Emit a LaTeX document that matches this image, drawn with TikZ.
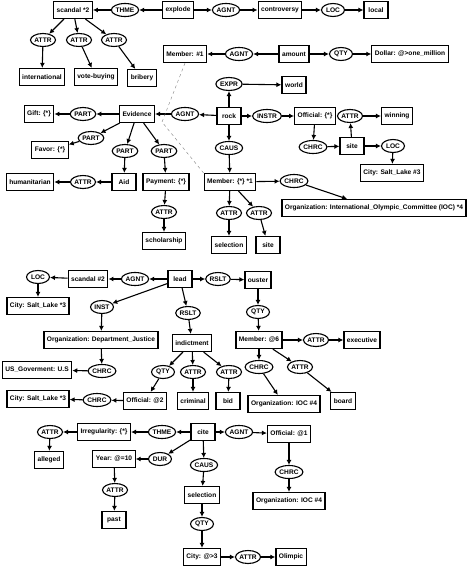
\documentclass[tikz,border=0pt]{standalone}
\usepackage{fontspec}
\setmainfont{Liberation Sans}
\usetikzlibrary{arrows.meta,shapes.geometric}

\begin{document}
\begin{tikzpicture}[
    x=1pt, y=-1pt,
    box/.style={draw,rectangle,line width=1.2pt,minimum height=17pt,minimum width=24pt,inner xsep=3pt,inner ysep=2pt,font=\fontsize{6.6}{7.5}\selectfont\bfseries},
    rel/.style={draw,ellipse,line width=1.1pt,minimum width=23pt,minimum height=13pt,inner sep=0.3pt,font=\fontsize{6.6}{7.5}\selectfont\bfseries},
    arr/.style={-{Latex[length=5pt,width=5pt]},line width=1.1pt},
    coref/.style={dashed,gray,thin},
  ]
    \useasboundingbox (0,0) rectangle (474,567);
    % first graph
    \node[box] (SC)  at (73,10)  {scandal *2};
    \node[rel] (TH)  at (125,10) {THME};
    \node[box] (EX)  at (178,10) {explode};
    \node[rel] (AG1) at (226,10) {AGNT};
    \node[box] (CO)  at (280,10) {controversy};
    \node[rel] (LC1) at (333,10) {LOC};
    \node[box] (LO)  at (376,10) {local};
    \node[rel] (AT1) at (43,40)  {ATTR};
    \node[rel] (AT2) at (79,40)  {ATTR};
    \node[rel] (AT3) at (114,40) {ATTR};
    \node[box] (IN)  at (42,77)  {international};
    \node[box] (VB)  at (96,77)  {vote-buying};
    \node[box] (BR)  at (142,78) {bribery};
    \draw[arr] (EX)--(TH); \draw[arr] (TH)--(SC); \draw[arr] (EX)--(AG1);
    \draw[arr] (AG1)--(CO); \draw[arr] (CO)--(LC1); \draw[arr] (LC1)--(LO);
    \draw[arr] (SC)--(AT1); \draw[arr] (SC)--(AT2); \draw[arr] (SC)--(AT3);
    \draw[arr] (AT1)--(IN); \draw[arr] (AT2)--(VB); \draw[arr] (AT3)--(BR);

    \node[box] (M1)  at (185,54) {Member: \#1};
    \node[rel] (AG2) at (239,54) {AGNT};
    \node[box] (AM)  at (294,54) {amount};
    \node[rel] (QT1) at (341,54) {QTY};
    \node[box] (DO)  at (410,54) {Dollar: @>one\_million};
    \draw[arr] (AM)--(AG2); \draw[arr] (AG2)--(M1);
    \draw[arr] (AM)--(QT1); \draw[arr] (QT1)--(DO);

    \node[rel] (EP)  at (229,84)  {EXPR};
    \node[box] (WO)  at (294,85)  {world};
    \node[box] (RK)  at (229,116) {rock};
    \node[rel] (AG3) at (185,114) {AGNT};
    \node[box] (EV)  at (137,114) {Evidence};
    \node[rel] (PA1) at (83,114)  {PART};
    \node[box] (GI)  at (39,114)  {Gift: \{*\}};
    \node[rel] (PA2) at (91,138)  {PART};
    \node[box] (FA)  at (50,150)  {Favor: \{*\}};
    \node[rel] (PA3) at (125,151) {PART};
    \node[rel] (PA4) at (164,151) {PART};
    \node[box] (AI)  at (124,182) {Aid};
    \node[box] (PY)  at (166,182) {Payment: \{*\}};
    \node[rel] (AT4) at (83,182)  {ATTR};
    \node[box] (HU)  at (30,182)  {humanitarian};
    \node[rel] (AT5) at (164,212) {ATTR};
    \node[box] (SS)  at (164,241) {scholarship};
    \draw[arr] (RK)--(EP); \draw[arr] (EP)--(WO);
    \draw[arr] (RK)--(AG3); \draw[arr] (AG3)--(EV);
    \draw[arr] (EV)--(PA1); \draw[arr] (PA1)--(GI);
    \draw[arr] (EV)--(PA2); \draw[arr] (PA2)--(FA);
    \draw[arr] (EV)--(PA3); \draw[arr] (PA3)--(AI);
    \draw[arr] (EV)--(PA4); \draw[arr] (PA4)--(PY);
    \draw[arr] (AI)--(AT4); \draw[arr] (AT4)--(HU);
    \draw[arr] (PY)--(AT5); \draw[arr] (AT5)--(SS);

    \node[rel] (IS)  at (267,116) {INSTR};
    \node[box] (OF)  at (315,116) {Official: \{*\}};
    \node[rel] (AT6) at (350,116) {ATTR};
    \node[box] (WI)  at (397,116) {winning};
    \node[rel] (CH1) at (313,147) {CHRC};
    \node[box] (SI)  at (352,146) {site};
    \node[rel] (LC2) at (393,146) {LOC};
    \node[box] (CT1) at (392,173) {City: Salt\_Lake \#3};
    \draw[arr] (RK)--(IS); \draw[arr] (IS)--(OF);
    \draw[arr] (OF)--(CH1); \draw[arr] (CH1)--(SI);
    \draw[arr] (SI)--(AT6); \draw[arr] (AT6)--(WI);
    \draw[arr] (SI)--(LC2); \draw[arr] (LC2)--(CT1);

    \node[rel] (CA)  at (229,148) {CAUS};
    \node[box] (MS)  at (230,182) {Member: \{*\} *1};
    \node[rel] (CH2) at (294,181) {CHRC};
    \node[box] (OR1) at (374,208) {Organization: International\_Olympic\_Committee (IOC) *4};
    \node[rel] (AT7) at (229,213) {ATTR};
    \node[rel] (AT8) at (259,213) {ATTR};
    \node[box] (SE)  at (229,245) {selection};
    \node[box] (ST)  at (268,245) {site};
    \draw[arr] (RK)--(CA); \draw[arr] (CA)--(MS);
    \draw[arr] (MS)--(CH2); \draw[arr] (CH2)--(OR1);
    \draw[arr] (MS)--(AT7); \draw[arr] (AT7)--(SE);
    \draw[arr] (MS)--(AT8); \draw[arr] (AT8)--(ST);

    % coreference
    \coordinate (CB) at (162,122);
    \draw[coref] (M1.south)--(CB)--(MS.north west);

    % second graph
    \node[rel] (LC3) at (38,277)  {LOC};
    \node[box] (SC2) at (88,279)  {scandal \#2};
    \node[rel] (AG4) at (135,279) {AGNT};
    \node[box] (LE)  at (180,279) {lead};
    \node[rel] (RS1) at (218,279) {RSLT};
    \node[box] (OU)  at (258,280) {ouster};
    \node[box] (CT2) at (38,306)  {City: Salt\_Lake *3};
    \node[rel] (IT)  at (102,307) {INST};
    \node[box] (OD)  at (101,340) {Organization: Department\_Justice};
    \node[rel] (RS2) at (188,313) {RSLT};
    \node[box] (ID)  at (192,343) {indictment};
    \draw[arr] (LE)--(AG4); \draw[arr] (AG4)--(SC2); \draw[arr] (SC2)--(LC3);
    \draw[arr] (LC3)--(CT2); \draw[arr] (LE)--(RS1); \draw[arr] (RS1)--(OU);
    \draw[arr] (LE)--(IT); \draw[arr] (IT)--(OD);
    \draw[arr] (LE)--(RS2); \draw[arr] (RS2)--(ID);

    \node[rel] (QT2) at (258,312)  {QTY};
    \node[box] (M6)  at (259,340)  {Member: @6};
    \node[rel] (AT9) at (316,340)  {ATTR};
    \node[box] (EC)  at (362,340)  {executive};
    \node[rel] (CH3) at (259,367)  {CHRC};
    \node[rel] (AT10) at (300,367) {ATTR};
    \node[box] (OR2) at (284,404)  {Organization: IOC \#4};
    \node[box] (BO)  at (343,401)  {board};
    \draw[arr] (OU)--(QT2); \draw[arr] (QT2)--(M6);
    \draw[arr] (M6)--(AT9); \draw[arr] (AT9)--(EC);
    \draw[arr] (M6)--(CH3); \draw[arr] (CH3)--(OR2);
    \draw[arr] (M6)--(AT10); \draw[arr] (AT10)--(BO);

    \node[box] (US)  at (37,370)  {US\_Goverment: U.S};
    \node[rel] (CH4) at (102,371) {CHRC};
    \node[rel] (QT3) at (163,372) {QTY};
    \node[rel] (AT11) at (193,372) {ATTR};
    \node[rel] (AT12) at (229,372) {ATTR};
    \node[box] (CT3) at (38,399)  {City: Salt\_Lake *3};
    \node[rel] (CH5) at (97,400)  {CHRC};
    \node[box] (O2)  at (145,401) {Official: @2};
    \node[box] (CR)  at (193,401) {criminal};
    \node[box] (BI)  at (228,401) {bid};
    \draw[arr] (OD)--(CH4); \draw[arr] (CH4)--(US);
    \draw[arr] (ID)--(QT3); \draw[arr] (ID)--(AT11); \draw[arr] (ID)--(AT12);
    \draw[arr] (QT3)--(O2); \draw[arr] (O2)--(CH5); \draw[arr] (CH5)--(CT3);
    \draw[arr] (AT11)--(CR); \draw[arr] (AT12)--(BI);

    % third graph
    \node[rel] (AT13) at (50,432) {ATTR};
    \node[box] (IR)  at (104,432) {Irregularity: \{*\}};
    \node[rel] (TH2) at (162,432) {THME};
    \node[box] (CI)  at (203,432) {cite};
    \node[rel] (AG5) at (239,432) {AGNT};
    \node[box] (O1)  at (289,434) {Official: @1};
    \node[box] (AL)  at (49,460)  {alleged};
    \node[box] (YR)  at (114,459) {Year: @=10};
    \node[rel] (DU)  at (160,459) {DUR};
    \node[rel] (CA2) at (204,465) {CAUS};
    \node[rel] (AT14) at (115,490) {ATTR};
    \node[box] (PS)  at (114,520) {past};
    \node[box] (SL)  at (202,495) {selection};
    \node[rel] (QT4) at (202,524) {QTY};
    \node[box] (CT4) at (202,557) {City: @>3};
    \node[rel] (AT15) at (248,557) {ATTR};
    \node[box] (OL)  at (291,557) {Olimpic};
    \node[rel] (CH6) at (289,472) {CHRC};
    \node[box] (OR3) at (289,501) {Organization: IOC \#4};
    \draw[arr] (CI)--(TH2); \draw[arr] (TH2)--(IR); \draw[arr] (IR)--(AT13);
    \draw[arr] (AT13)--(AL); \draw[arr] (CI)--(AG5); \draw[arr] (AG5)--(O1);
    \draw[arr] (CI)--(DU); \draw[arr] (DU)--(YR);
    \draw[arr] (YR)--(AT14); \draw[arr] (AT14)--(PS);
    \draw[arr] (CI)--(CA2); \draw[arr] (CA2)--(SL); \draw[arr] (SL)--(QT4);
    \draw[arr] (QT4)--(CT4); \draw[arr] (CT4)--(AT15); \draw[arr] (AT15)--(OL);
    \draw[arr] (O1)--(CH6); \draw[arr] (CH6)--(OR3);
  \end{tikzpicture}
\end{document}
